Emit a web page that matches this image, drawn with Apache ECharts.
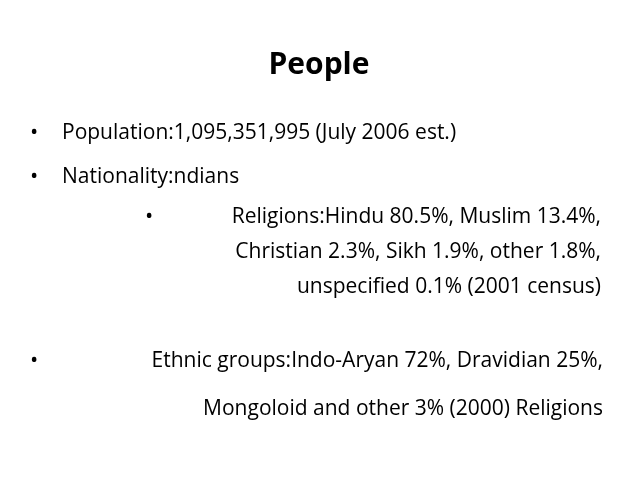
<!DOCTYPE html>
<html>
<head>
<meta charset="utf-8">
<script src="https://cdn.jsdelivr.net/npm/echarts@6/dist/echarts.min.js"></script>
<style>html,body{margin:0;padding:0;background:#fff;}#main{width:638px;height:478px;}</style>
</head>
<body>
<div id="main"></div>
<script>
var title = 'People';
// [text, x, y, align, bullet x or null]
var lines = [
  ['Population:1,095,351,995 (July 2006 est.)', 62, 133, 'left', 30],
  ['Nationality:ndians', 62, 177, 'left', 30],
  ['Religions:Hindu 80.5%, Muslim 13.4%,', 601, 217, 'right', 145],
  ['Christian 2.3%, Sikh 1.9%, other 1.8%,', 601, 252, 'right', null],
  ['unspecified 0.1% (2001 census)', 601, 287, 'right', null],
  ['Ethnic groups:Indo-Aryan 72%, Dravidian 25%,', 603, 361, 'right', 30],
  ['Mongoloid and other 3% (2000) Religions', 603, 409, 'right', null]
];
var font = '"Open Sans", Lato, sans-serif';
var els = [{
  type: 'text', x: 319, y: 65,
  style: {text: title, fontSize: 30, fontWeight: 'bold', fontFamily: font, fill: '#000', align: 'center', verticalAlign: 'middle'}
}];
lines.forEach(function(l){
  els.push({type: 'text', x: l[1], y: l[2],
    style: {text: l[0], fontSize: 21, fontFamily: font, fill: '#000', align: l[3], verticalAlign: 'middle'}});
  if (l[4] !== null) {
    els.push({type: 'text', x: l[4], y: l[2],
      style: {text: '•', fontSize: 22, fontFamily: font, fill: '#000', align: 'left', verticalAlign: 'middle'}});
  }
});
var chart = echarts.init(document.getElementById('main'));
chart.setOption({backgroundColor: '#fff', graphic: els});
</script>
</body>
</html>
